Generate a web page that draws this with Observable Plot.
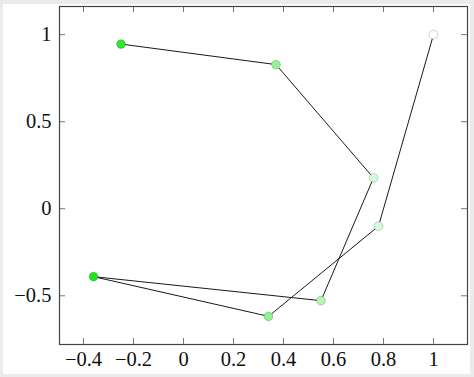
<!DOCTYPE html>
<html>
<head>
<meta charset="utf-8">
<script src="https://cdn.jsdelivr.net/npm/d3@7"></script>
<script src="https://cdn.jsdelivr.net/npm/@observablehq/plot@0.6"></script>
<style>
  html, body { margin: 0; padding: 0; background: #ebebeb; width: 474px; height: 377px; overflow: hidden; }
  #chart { position: absolute; left: 3px; top: 4px; width: 467px; height: 370px; background: #ffffff; }
  #chart svg { display: block; background: #ffffff; }
  #chart svg text { font-family: "Liberation Serif", "DejaVu Serif", serif !important; font-size: 20.5px !important; fill: #111; }
</style>
</head>
<body>
<div id="chart"></div>
<script>
// Data (points in path order)
const xs = [1.00, 0.78, 0.34, -0.36, 0.55, 0.76, 0.37, -0.25];
const ys = [1.00, -0.10, -0.618, -0.39, -0.528, 0.177, 0.828, 0.946];
const xTicks = [-0.4, -0.2, 0, 0.2, 0.4, 0.6, 0.8, 1];
const yTicks = [-0.5, 0, 0.5, 1];

const data = xs.map((x, i) => ({x, y: ys[i], meta: x, i}));

function enlarge(vals) {
  const [a, b] = d3.extent(vals);
  const p = 0.1 * (b - a);
  return [a - p, b + p];
}

const W = 467, H = 370;
const mL = 56, mR = 3, mT = 2, mB = 30;
const fw = W - mL - mR, fh = H - mT - mB;
const tickLen = 6;
const fmt = d3.format("");

const chart = Plot.plot({
  width: W,
  height: H,
  marginLeft: mL,
  marginRight: mR,
  marginTop: mT,
  marginBottom: mB,
  style: {background: "#fff"},
  x: {domain: enlarge(xs)},
  y: {domain: enlarge(ys)},
  color: {type: "linear", domain: d3.extent(xs), range: ["#18e818", "#ffffff"]},
  marks: [
    // inward ticks on all four sides
    Plot.gridX(xTicks, {stroke: "#777", strokeOpacity: 1, strokeWidth: 1, insetTop: fh - tickLen}),
    Plot.gridX(xTicks, {stroke: "#777", strokeOpacity: 1, strokeWidth: 1, insetBottom: fh - tickLen}),
    Plot.gridY(yTicks, {stroke: "#777", strokeOpacity: 1, strokeWidth: 1, insetRight: fw - tickLen}),
    Plot.gridY(yTicks, {stroke: "#777", strokeOpacity: 1, strokeWidth: 1, insetLeft: fw - tickLen}),
    Plot.axisX(xTicks, {tickSize: 0, tickPadding: 7, tickFormat: fmt, fontSize: 20, label: null}),
    Plot.axisY(yTicks, {tickSize: 0, tickPadding: 8, tickFormat: fmt, fontSize: 20, label: null}),
    Plot.frame({stroke: "#444", strokeWidth: 1.2}),
    Plot.line(data, {x: "x", y: "y", stroke: "#1a1a1a", strokeWidth: 1}),
    Plot.dot(data, {x: "x", y: "y", r: 4.4, fill: "meta", stroke: "rgba(0,0,0,0.2)", strokeWidth: 0.9})
  ]
});

document.getElementById("chart").appendChild(chart);
</script>
</body>
</html>
